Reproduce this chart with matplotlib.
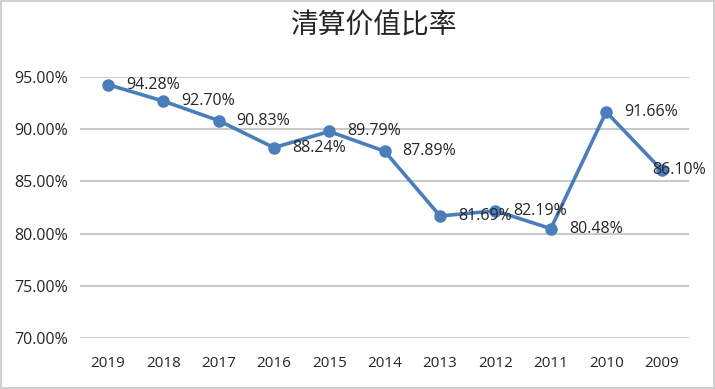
import matplotlib
matplotlib.use('Agg')
import matplotlib.pyplot as plt
from matplotlib.patches import Rectangle
from matplotlib.ticker import FuncFormatter

plt.rcParams['font.family'] = ['Noto Sans CJK SC', 'DejaVu Sans']

years = ['2019', '2018', '2017', '2016', '2015', '2014', '2013', '2012', '2011', '2010', '2009']
ratio = [94.28, 92.70, 90.83, 88.24, 89.79, 87.89, 81.69, 82.19, 80.48, 91.66, 86.10]

line_color = '#4A7EBB'
text_color = '#262626'

fig = plt.figure(figsize=(7.15, 3.89), dpi=100)
ax = fig.add_axes([0.112, 0.131, 0.852, 0.671])

x = list(range(len(years)))
ax.plot(x, ratio, color=line_color, lw=2.6, marker='o', ms=8, zorder=3)

for xi, v in zip(x, ratio):
    # last label is pulled left so it stays inside the chart
    dx = 13 if xi < len(x) - 1 else -7
    ax.annotate('%.2f%%' % v, (xi, v), xytext=(dx, 0), textcoords='offset points',
                ha='left', va='center', fontsize=11.5, color=text_color,
                family='Open Sans', zorder=4)

ax.set_xlim(-0.5, len(years) - 0.5)
ax.set_ylim(70, 95)
ax.set_yticks([70, 75, 80, 85, 90, 95])
ax.yaxis.set_major_formatter(FuncFormatter(lambda v, p: '%.2f%%' % v))
ax.set_xticks(x)
ax.set_xticklabels(years)
ax.grid(axis='y', color='#C8C8C8', lw=1.4)
ax.set_axisbelow(True)
for s in ax.spines.values():
    s.set_visible(False)
ax.tick_params(axis='y', length=0, labelsize=11.5, colors=text_color, pad=9)
ax.tick_params(axis='x', length=0, labelsize=11, colors=text_color, pad=13)
for lab in ax.get_xticklabels() + ax.get_yticklabels():
    lab.set_family('Open Sans')

fig.text(0.522, 0.935, '清算价值比率', ha='center', va='center', fontsize=20,
         color=text_color, fontweight='light')

fig.patches.append(Rectangle((0.002, 0.003), 0.996, 0.994, transform=fig.transFigure,
                             fill=False, edgecolor='#C8C8C8', lw=1.2))

fig.savefig('out.png', dpi=100)
